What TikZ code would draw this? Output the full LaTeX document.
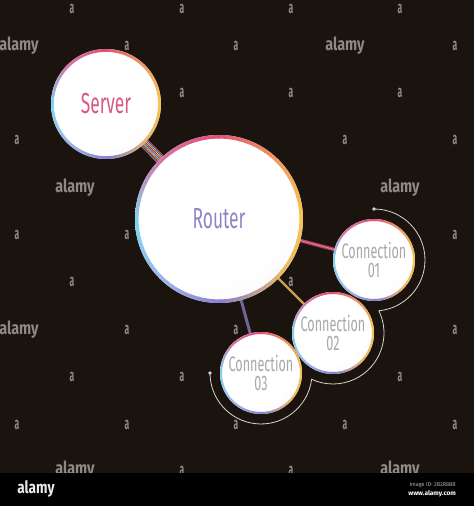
\documentclass[tikz,border=0pt]{standalone}
\usepackage{fontspec}
\usetikzlibrary{calc}
\newfontfamily\cond[FakeStretch=0.6]{Fira Sans}
\newfontfamily\wmlogo[FakeStretch=0.8]{Fira Sans}
\newfontfamily\wmsingle[FakeStretch=0.5]{Fira Sans}
\definecolor{bgbrown}{HTML}{1B130E}
\definecolor{rim0}{HTML}{F6C453}
\definecolor{rim1}{HTML}{F0985E}
\definecolor{rim2}{HTML}{E04F78}
\definecolor{rim3}{HTML}{D27AAE}
\definecolor{rim4}{HTML}{7FD6F2}
\definecolor{rim5}{HTML}{9DB8EC}
\definecolor{rim6}{HTML}{8A7FD0}
\definecolor{rim7}{HTML}{E8B86A}
\colorlet{rim8}{rim0}
\definecolor{srvtext}{HTML}{D65A84}
\definecolor{rtrtext}{HTML}{8D86C2}
\definecolor{cntext}{HTML}{A8A8A8}
\definecolor{lineone}{HTML}{B0405F}
\definecolor{lineonel}{HTML}{E07A98}
\definecolor{linetwo}{HTML}{C8A052}
\definecolor{linethree}{HTML}{6E6694}
\definecolor{outl}{HTML}{D8D4D0}
\pgfdeclareradialshading{discshade}{\pgfpoint{-6bp}{8bp}}{color(0bp)=(white); color(24bp)=(white); color(44bp)=(black!6); color(50bp)=(black!14); color(62bp)=(black!14)}
\pgfdeclarelayer{bglayer}
\pgfdeclarelayer{connlayer}
\pgfdeclarelayer{wmlayer}
\pgfsetlayers{bglayer,connlayer,main,wmlayer}
\newcommand\rimring[3]{%
  \foreach \i in {0,...,71}{%
    \pgfmathtruncatemacro\k{\i/9}%
    \pgfmathtruncatemacro\kk{\k+1}%
    \pgfmathtruncatemacro\p{100-round(100*(\i-9*\k)/9)}%
    \pgfmathsetmacro\ang{\i*5}%
    \colorlet{segc}{rim\k!\p!rim\kk}%
    \draw[segc, line width=#3] ($(#1)+(\ang:#2)$) arc[start angle=\ang, end angle=\ang+5.8, radius=#2];
  }%
}
\tikzset{
  disc/.style={circle, inner sep=0pt, shading=discshade, align=center},
  bigtxt/.style={font=\cond\fontsize{29}{29}\selectfont},
  cntxt/.style={font=\cond\fontsize{21}{19}\selectfont, text=cntext},
  outline/.style={outl, line width=0.8pt},
  wma/.style={text=white, text opacity=0.5, inner sep=0pt, font=\wmsingle\bfseries\fontsize{17}{17}\selectfont},
  wml/.style={text=white, text opacity=0.5, inner sep=0pt, font=\wmlogo\bfseries\fontsize{18}{18}\selectfont}
}
\begin{document}
\begin{tikzpicture}[x=1pt,y=1pt]
\useasboundingbox (0,0) rectangle (474,506);
\begin{pgfonlayer}{bglayer}
  \fill[bgbrown] (0,0) rectangle (474,506);
\end{pgfonlayer}

% nodes
\node[disc, minimum size=110pt, bigtxt, text=srvtext] (server) at (106,402) {Server};
\node[disc, minimum size=168pt, bigtxt, text=rtrtext] (router) at (219,287) {Router};
\node[disc, minimum size=82pt, cntxt] (c1) at (374,246) {Connection\\01};
\node[disc, minimum size=82pt, cntxt] (c2) at (333,173) {Connection\\02};
\node[disc, minimum size=82pt, cntxt] (c3) at (261,133) {Connection\\03};

\rimring{server.center}{53.6}{2.8pt}
\rimring{router.center}{82.2}{3.6pt}
\rimring{c1.center}{40}{2pt}
\rimring{c2.center}{40}{2pt}
\rimring{c3.center}{40}{2pt}

% connectors
\begin{pgfonlayer}{connlayer}
  \foreach \o/\c in {-4.5pt/rim6,-3.2pt/rim2,-1.9pt/rim0,-0.6pt/rim4,0.6pt/rim3,1.9pt/rim0,3.2pt/rim5,4.5pt/rim2}
    \draw[\c, line width=0.8pt] ($(server.center)!\o!90:(router.center)$) -- ($(router.center)!\o!-90:(server.center)$);
  \draw[lineone, line width=3.6pt] (router.center) -- (c1.center);
  \draw[lineonel, line width=1pt] (router.center) -- (c1.center);
  \draw[linetwo, line width=2.2pt] (router.center) -- (c2.center);
  \draw[linethree, line width=3pt] (router.center) -- (c3.center);
\end{pgfonlayer}

% outline around the connections
\draw[outline] ([shift={(90:51)}]c1.center) coordinate (ostart)
  arc[start angle=90, end angle=-84.49, radius=51]
  arc[start angle=25.84, end angle=-114.80, radius=51]
  arc[start angle=-7.10, end angle=-180, radius=51] coordinate (oend);
\fill[outl] (ostart) circle (1.8);
\fill[outl] (oend) circle (1.8);

% watermark
\begin{pgfonlayer}{wmlayer}
  \foreach \x/\y [count=\n] in {72/497,182/497,291/497,400/497,
      127/460,236/460,455/460,
      182/413,291/413,400/413,
      17/366,345/366,455/366,
      17/271,127/271,455/271,
      72/224,291/224,
      127/176,236/176,455/176,
      72/129,182/129,400/129,
      17/81,127/81,236/81,345/81,455/81,
      182/35,291/35}
    \node[wma] (wa\n) at (\x,\y) {a};
  \foreach \x/\y [count=\n] in {19/460,345/460,75/318,400/318,19/176,75/36,400/36}
    \node[wml] (wl\n) at (\x,\y) {alamy};
  \fill[black] (0,0) rectangle (474,33);
  \node[inner sep=0pt, text=black!8, font=\wmlogo\bfseries\fontsize{17}{17}\selectfont] (logo) at (36,17) {alamy};
  \node[inner sep=0pt, anchor=east, text=black!30, font=\fontspec{Fira Sans}\fontsize{5.5}{6}\selectfont] (imgid) at (456,21) {Image ID: 2B2R8BR};
  \node[inner sep=0pt, anchor=east, text=white, font=\fontspec{Fira Sans}\bfseries\fontsize{6.5}{7}\selectfont] (site) at (456,12) {www.alamy.com};
\end{pgfonlayer}
\end{tikzpicture}
\end{document}
